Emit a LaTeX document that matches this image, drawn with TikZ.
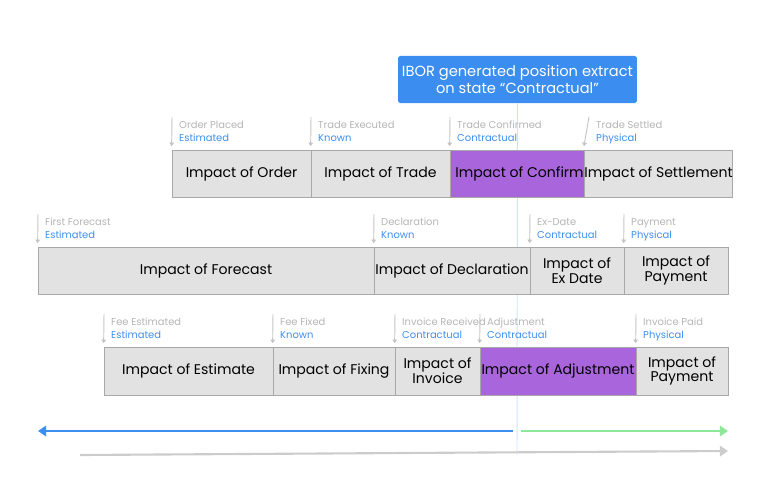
\documentclass[tikz,border=0pt]{standalone}
\usepackage{fontspec}
\setmainfont{Poppins}
\usetikzlibrary{arrows.meta}
\definecolor{iborblue}{HTML}{3B8EF0}
\definecolor{stateblue}{HTML}{3D8EF0}
\definecolor{purplebox}{HTML}{A966DC}
\definecolor{greybox}{HTML}{E2E2E2}
\definecolor{greyline}{HTML}{A8A8A8}
\definecolor{greytext}{HTML}{B5B5B5}
\definecolor{greenarrow}{HTML}{8EE89A}
\tikzstyle{impact}=[draw=greyline,line width=0.6pt,inner sep=0pt,align=center,font=\fontsize{12}{12.5}\selectfont]
\tikzstyle{event}=[anchor=base west,inner sep=0pt,text=greytext,font=\fontsize{8.5}{9}\selectfont]
\tikzstyle{state}=[anchor=base west,inner sep=0pt,text=stateblue,font=\fontsize{8.5}{9}\selectfont]
\tikzstyle{drop}=[draw=greytext!80,line width=0.8pt,-{Triangle[length=3pt,width=4pt]}]

\begin{document}
\begin{tikzpicture}[x=0.03cm,y=-0.03cm]
			\useasboundingbox (0,0) rectangle (767,479);
			%Adding the extract marker
			\node[fill=iborblue,rounded corners=1.5pt,text=white,minimum width=227*0.03cm,minimum height=47*0.03cm,align=center,font=\fontsize{12.5}{14}\selectfont] (extract) at (517.5,79.5) {IBOR generated position extract\\on state “Contractual”};
			\coordinate (cutoff) at (517,455);
			\draw[iborblue!25,line width=0.8pt] (extract.south) -- (cutoff);
			%Adding the three rows of impacts
			\foreach \row/\ytop/\ybot/\list in {
					o/150/197/{172/311/Order Placed/Estimated/Impact of Order/greybox,
							311/450/Trade Executed/Known/Impact of Trade/greybox,
							450/589/Trade Confirmed/Contractual/Impact of Confirm/purplebox,
							589/728/Trade Settled/Physical/Impact of Settlement/greybox},
					f/247/294/{38/374/First Forecast/Estimated/Impact of Forecast/greybox,
							374/530/Declaration/Known/Impact of Declaration/greybox,
							530/624/Ex-Date/Contractual/Impact of\\Ex Date/greybox,
							624/728/Payment/Physical/Impact of\\Payment/greybox},
					e/347/395/{104/273/Fee Estimated/Estimated/Impact of Estimate/greybox,
							273/395/Fee Fixed/Known/Impact of Fixing/greybox,
							395/480/Invoice Received/Contractual/Impact of\\Invoice/greybox,
							480/636/Adjustment/Contractual/Impact of Adjustment/purplebox,
							636/728/Invoice Paid/Physical/Impact of\\Payment/greybox}}
			{
				\foreach \xa/\xb/\evt/\st/\txt/\col [count=\i] in \list
				{
					\node[impact,fill=\col,minimum width={(\xb-\xa)*0.03cm},minimum height={(\ybot-\ytop)*0.03cm}]
						(\row\i) at ({(\xa+\xb)/2},{(\ytop+\ybot)/2}) {\txt};
					\coordinate (\row\i top) at (\xa,\ytop-33);
					\draw[drop] (\row\i top) -- ([yshift=3pt]\row\i.north west);
					\node[event] (\row\i evt) at (\xa+7,\ytop-22) {\evt};
					\node[state] (\row\i st) at (\xa+7,\ytop-9) {\st};
				}
			}
			%Adding timeline arrows
			\coordinate (pastend) at (38,431);
			\coordinate (paststart) at (513,431);
			\coordinate (futstart) at (521,431);
			\coordinate (futend) at (728,431);
			\coordinate (timestart) at (80,455);
			\coordinate (timeend) at (728,451);
			\draw[iborblue,line width=1.8pt,-{Triangle[length=7pt,width=9pt]}] (paststart) -- (pastend);
			\draw[greenarrow,line width=1.8pt,-{Triangle[length=7pt,width=9pt]}] (futstart) -- (futend);
			\draw[black!20,line width=1.8pt,-{Triangle[length=7pt,width=9pt]}] (timestart) -- (timeend);
		\end{tikzpicture}
\end{document}
